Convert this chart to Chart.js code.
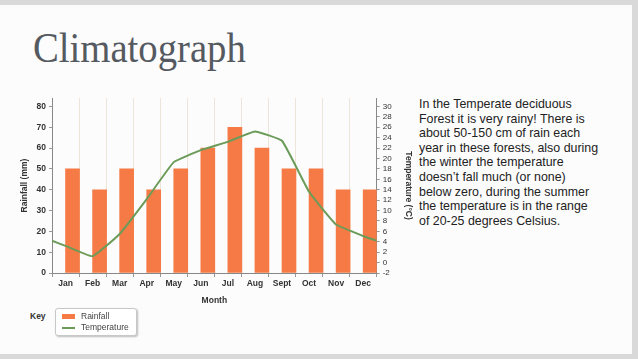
<!DOCTYPE html>
<html>
<head>
<meta charset="utf-8">
<script src="https://cdn.jsdelivr.net/npm/chart.js@4.4.1/dist/chart.umd.min.js"></script>
<style>
  body { margin: 0; width: 638px; height: 359px; background: #d9d9d9; overflow: hidden; position: relative; font-family: "Liberation Sans", Arial, sans-serif; }
  #panel { position: absolute; left: 0; top: 5px; width: 632px; height: 349px; background: #fcfcfc; }
  #title { position: absolute; left: 33px; top: 23px; font-family: "Liberation Serif", "DejaVu Serif", serif; font-size: 43px; color: #555a61; transform: scaleX(0.9); transform-origin: left top; white-space: nowrap; }
  #chartBox { position: absolute; left: 20px; top: 90px; width: 395px; height: 220px; }
  #text { position: absolute; left: 419px; top: 97px; font-size: 12.4px; line-height: 14.6px; color: #222; white-space: nowrap; }
  #key { position: absolute; left: 30px; top: 311px; font-size: 8.5px; font-weight: bold; color: #333; }
  #legend { position: absolute; left: 55px; top: 308px; width: 80px; height: 26px; background: #fff; border: 1px solid #c8c8c8; border-radius: 3px; box-shadow: 1px 1px 2px #bbb; font-size: 8.5px; color: #444; }
  .row { position: absolute; left: 6px; height: 10px; line-height: 10px; }
  .sw { display: inline-block; width: 13px; vertical-align: middle; margin-right: 6px; }
</style>
</head>
<body>
<div id="panel"></div>
<div id="title">Climatograph</div>
<div id="chartBox"><canvas id="myChart"></canvas></div>
<div id="text">In the Temperate deciduous<br>Forest it is very rainy! There is<br>about 50-150 cm of rain each<br>year in these forests, also during<br>the winter the temperature<br>doesn’t fall much (or none)<br>below zero, during the summer<br>the temperature is in the range<br>of 20-25 degrees Celsius.</div>
<div id="key">Key</div>
<div id="legend">
  <div class="row" style="top:2px"><span class="sw" style="height:5px;background:#f57a45"></span>Rainfall</div>
  <div class="row" style="top:13px"><span class="sw" style="height:2px;background:#6b9b58"></span>Temperature</div>
</div>
<script>
// Climatograph data
const months = ["Jan", "Feb", "Mar", "Apr", "May", "Jun", "Jul", "Aug", "Sept", "Oct", "Nov", "Dec"];
const rainfall = [50, 40, 50, 40, 50, 60, 70, 60, 50, 50, 40, 40];
const temperature = [3.2, 1.2, 5.5, 12.2, 19.3, 21.6, 23.2, 25.2, 23.4, 13.6, 7.3, 5.1];
// line also runs out to the axis edges
const tempStart = 4.2;
const tempEnd = 4.2;
// tick labels
const rainTicks = [0, 10, 20, 30, 40, 50, 60, 70, 80];
const tempTicks = [-2, 0, 2, 4, 6, 8, 10, 12, 14, 16, 18, 20, 22, 24, 26, 28, 30];

const barColor = '#f57a45';
const lineColor = '#6b9b58';

// temperature placed on a linear month axis (0..12), month centres at i + 0.5
var tempPoints = [{x: 0, y: tempStart}];
temperature.forEach((t, i) => tempPoints.push({x: i + 0.5, y: t}));
tempPoints.push({x: 12, y: tempEnd});

var ctx = document.getElementById('myChart').getContext('2d');
var chart = new Chart(ctx, {
    data: {
        labels: months,
        datasets: [
            {
                type: 'line',
                label: 'Temperature',
                data: tempPoints,
                xAxisID: 'xLine',
                yAxisID: 'yTemp',
                borderColor: lineColor,
                borderWidth: 2,
                pointRadius: 0,
                tension: 0.1
            },
            {
                type: 'bar',
                label: 'Rainfall',
                data: rainfall,
                xAxisID: 'x',
                yAxisID: 'y',
                backgroundColor: barColor,
                barThickness: 14
            }
        ]
    },
    options: {
        responsive: true,
        maintainAspectRatio: false,
        animation: false,
        layout: { padding: { top: 6, left: 0, right: 0, bottom: 0 } },
        plugins: { legend: { display: false }, tooltip: { enabled: false } },
        scales: {
            x: {
                type: 'category',
                offset: true,
                grid: { offset: true, color: '#eee5da', tickLength: 4, tickColor: '#999' },
                border: { color: '#888' },
                ticks: { color: '#333', font: { size: 8.5, weight: 'bold' }, padding: 2, autoSkip: false, maxRotation: 0 },
                title: { display: true, text: 'Month', color: '#333', font: { size: 8.5, weight: 'bold' }, padding: { top: 2, bottom: 4 } },
                afterFit: s => { s.height = 37; }
            },
            xLine: {
                type: 'linear',
                display: false,
                min: 0,
                max: 12
            },
            y: {
                position: 'left',
                min: 0,
                max: 84,
                grid: { drawOnChartArea: false, tickLength: 3, tickColor: '#999' },
                border: { color: '#888' },
                ticks: { color: '#333', font: { size: 8.5, weight: 'bold' }, padding: 3, autoSkip: false },
                afterBuildTicks: s => { s.ticks = rainTicks.map(v => ({value: v})); },
                title: { display: true, text: 'Rainfall (mm)', color: '#333', font: { size: 8.5, weight: 'bold' }, padding: 0 },
                afterFit: s => { s.width = 32; }
            },
            yTemp: {
                position: 'right',
                min: -2,
                max: 31.6,
                grid: { drawOnChartArea: false, tickLength: 3, tickColor: '#999' },
                border: { color: '#888' },
                ticks: { color: '#333', font: { size: 8 }, padding: 3, autoSkip: false },
                afterBuildTicks: s => { s.ticks = tempTicks.map(v => ({value: v})); },
                title: { display: true, text: 'Temperature (°C)', color: '#333', font: { size: 8.5, weight: 'bold' }, padding: 2 },
                afterFit: s => { s.width = 38.3; }
            }
        }
    }
});
</script>
</body>
</html>
